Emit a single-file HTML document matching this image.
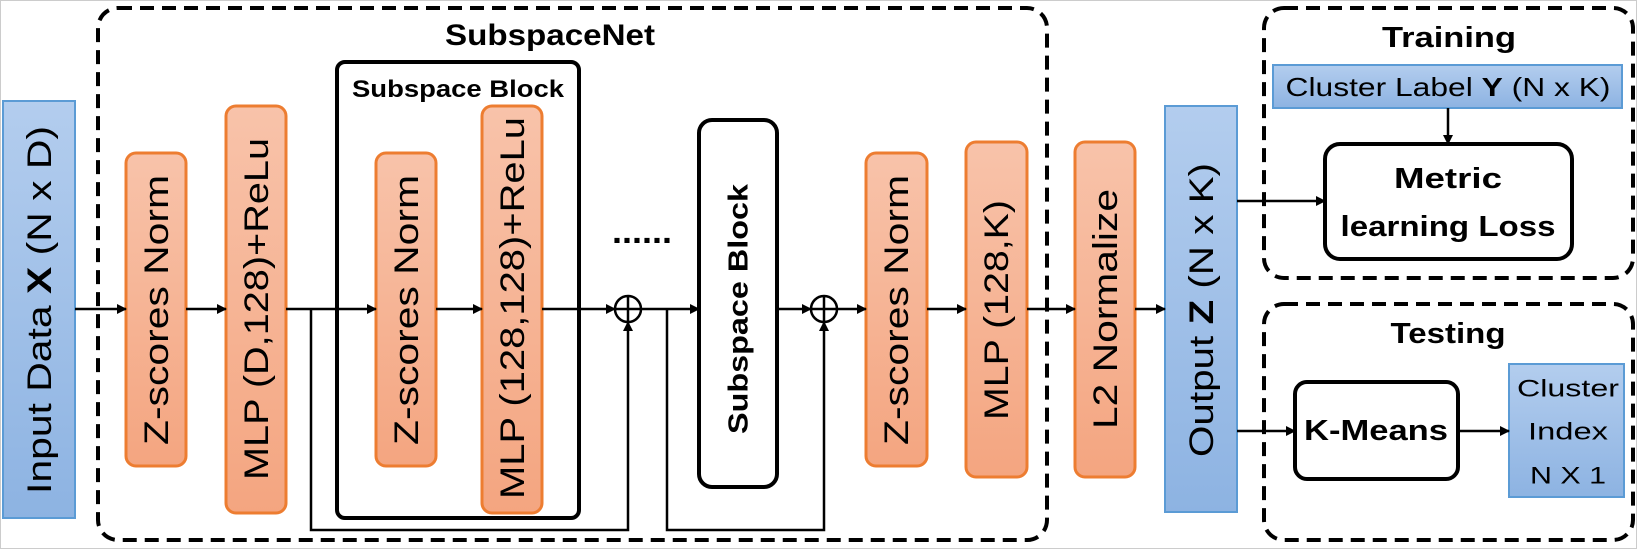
<!DOCTYPE html>
<html><head><meta charset="utf-8"><style>
html,body{margin:0;padding:0;background:#fff;}
svg{display:block;}
text{font-family:"Liberation Sans",sans-serif;}
</style></head><body>
<svg width="1637" height="549" viewBox="0 0 1637 549" xmlns="http://www.w3.org/2000/svg">
<defs>
<linearGradient id="og" x1="0" y1="0" x2="0" y2="1"><stop offset="0" stop-color="#f8c3aa"/><stop offset="1" stop-color="#f4a580"/></linearGradient>
<linearGradient id="bg" x1="0" y1="0" x2="0" y2="1"><stop offset="0" stop-color="#b3cdee"/><stop offset="1" stop-color="#8db3e2"/></linearGradient>
<marker id="ar" markerWidth="10" markerHeight="10" refX="9" refY="5" orient="auto" markerUnits="userSpaceOnUse" viewBox="0 0 10 10"><path d="M0,0 L10,5 L0,10z" fill="#000"/></marker>
</defs>
<rect x="0.5" y="0.5" width="1636" height="548" fill="#fff" stroke="#ccc"/>
<!-- dashed containers -->
<g fill="none" stroke="#000" stroke-width="4" stroke-dasharray="14 8">
<rect x="98" y="8" width="949" height="532" rx="20"/>
<rect x="1264" y="8" width="369" height="270" rx="20"/>
<rect x="1264" y="304" width="369" height="236" rx="20"/>
</g>
<text x="550" y="45" font-size="30" font-weight="bold" text-anchor="middle" textLength="210" lengthAdjust="spacingAndGlyphs">SubspaceNet</text>
<!-- subspace block solid -->
<rect x="337" y="62" width="242" height="456" rx="8" fill="none" stroke="#000" stroke-width="4"/>
<text x="458" y="97" font-size="24" font-weight="bold" text-anchor="middle" textLength="212" lengthAdjust="spacingAndGlyphs">Subspace Block</text>
<!-- blue boxes -->
<rect x="3" y="101" width="72" height="417" fill="url(#bg)" stroke="#5b9bd5" stroke-width="2"/>
<rect x="1165" y="106" width="72" height="406" fill="url(#bg)" stroke="#5b9bd5" stroke-width="2"/>
<rect x="1273" y="65" width="349" height="43" fill="url(#bg)" stroke="#5b9bd5" stroke-width="2"/>
<rect x="1509" y="364" width="115" height="133" fill="url(#bg)" stroke="#5b9bd5" stroke-width="2"/>
<!-- orange boxes -->
<g fill="url(#og)" stroke="#ed7d31" stroke-width="3">
<rect x="126" y="153" width="60" height="313" rx="10"/>
<rect x="226" y="106" width="60" height="407" rx="10"/>
<rect x="376" y="153" width="60" height="313" rx="10"/>
<rect x="482" y="106" width="60" height="407" rx="10"/>
<rect x="866" y="153" width="61" height="313" rx="10"/>
<rect x="966" y="142" width="61" height="335" rx="10"/>
<rect x="1075" y="142" width="60" height="335" rx="10"/>
</g>
<!-- subspace block 2, metric, kmeans -->
<rect x="699" y="120" width="78" height="367" rx="13" fill="#fff" stroke="#000" stroke-width="4"/>
<rect x="1325" y="144" width="247" height="115" rx="15" fill="#fff" stroke="#000" stroke-width="4"/>
<rect x="1295" y="382" width="163" height="97" rx="12" fill="#fff" stroke="#000" stroke-width="4"/>
<!-- rotated labels -->
<g font-size="34" dominant-baseline="central" text-anchor="middle" lengthAdjust="spacingAndGlyphs">
<text transform="translate(40,310) rotate(-90)" textLength="368" lengthAdjust="spacingAndGlyphs">Input Data <tspan font-weight="bold">X</tspan> (N x D)</text>
<text transform="translate(157,310) rotate(-90)" textLength="270" lengthAdjust="spacingAndGlyphs">Z-scores Norm</text>
<text transform="translate(257,309) rotate(-90)" textLength="342" lengthAdjust="spacingAndGlyphs">MLP (D,128)+ReLu</text>
<text transform="translate(407,310) rotate(-90)" textLength="270" lengthAdjust="spacingAndGlyphs">Z-scores Norm</text>
<text transform="translate(513,308) rotate(-90)" textLength="382" lengthAdjust="spacingAndGlyphs">MLP (128,128)+ReLu</text>
<text transform="translate(738,309) rotate(-90)" font-size="28" font-weight="bold" textLength="250" lengthAdjust="spacingAndGlyphs">Subspace Block</text>
<text transform="translate(897,310) rotate(-90)" textLength="270" lengthAdjust="spacingAndGlyphs">Z-scores Norm</text>
<text transform="translate(997,310) rotate(-90)" textLength="220" lengthAdjust="spacingAndGlyphs">MLP (128,K)</text>
<text transform="translate(1106,309) rotate(-90)" textLength="240" lengthAdjust="spacingAndGlyphs">L2 Normalize</text>
<text transform="translate(1202,310) rotate(-90)" textLength="294" lengthAdjust="spacingAndGlyphs">Output <tspan font-weight="bold">Z</tspan> (N x K)</text>
</g>
<text x="642" y="243" font-size="34" font-weight="bold" text-anchor="middle" textLength="60" lengthAdjust="spacingAndGlyphs">......</text>
<!-- right labels -->
<g text-anchor="middle" dominant-baseline="central">
<text x="1449" y="38" font-size="29" font-weight="bold" textLength="134" lengthAdjust="spacingAndGlyphs">Training</text>
<text x="1448" y="87" font-size="26" textLength="325" lengthAdjust="spacingAndGlyphs">Cluster Label <tspan font-weight="bold">Y</tspan> (N x K)</text>
<text x="1448" y="179" font-size="29" font-weight="bold" textLength="108" lengthAdjust="spacingAndGlyphs">Metric</text>
<text x="1448" y="227" font-size="29" font-weight="bold" textLength="215" lengthAdjust="spacingAndGlyphs">learning Loss</text>
<text x="1448" y="334" font-size="29" font-weight="bold" textLength="115" lengthAdjust="spacingAndGlyphs">Testing</text>
<text x="1376" y="431" font-size="29" font-weight="bold" textLength="144" lengthAdjust="spacingAndGlyphs">K-Means</text>
<text x="1568" y="389" font-size="24" textLength="102" lengthAdjust="spacingAndGlyphs">Cluster</text>
<text x="1568" y="432" font-size="24" textLength="80" lengthAdjust="spacingAndGlyphs">Index</text>
<text x="1568" y="476" font-size="24" textLength="76" lengthAdjust="spacingAndGlyphs">N X 1</text>
</g>
<!-- connectors -->
<g stroke="#000" stroke-width="2.5" fill="none">
<line x1="75" y1="309" x2="126" y2="309" marker-end="url(#ar)"/>
<line x1="186" y1="309" x2="226" y2="309" marker-end="url(#ar)"/>
<line x1="286" y1="309" x2="376" y2="309" marker-end="url(#ar)"/>
<line x1="436" y1="309" x2="482" y2="309" marker-end="url(#ar)"/>
<line x1="542" y1="309" x2="615" y2="309" marker-end="url(#ar)"/>
<line x1="641" y1="309" x2="699" y2="309" marker-end="url(#ar)"/>
<line x1="777" y1="309" x2="811" y2="309" marker-end="url(#ar)"/>
<line x1="837" y1="309" x2="866" y2="309" marker-end="url(#ar)"/>
<line x1="927" y1="309" x2="966" y2="309" marker-end="url(#ar)"/>
<line x1="1027" y1="309" x2="1075" y2="309" marker-end="url(#ar)"/>
<line x1="1135" y1="309" x2="1165" y2="309" marker-end="url(#ar)"/>
<polyline points="311,309 311,530 628,530 628,322" marker-end="url(#ar)"/>
<polyline points="667,309 667,530 824,530 824,322" marker-end="url(#ar)"/>
<line x1="1237" y1="201" x2="1325" y2="201" marker-end="url(#ar)"/>
<line x1="1448" y1="108" x2="1448" y2="144" marker-end="url(#ar)"/>
<line x1="1237" y1="431" x2="1295" y2="431" marker-end="url(#ar)"/>
<line x1="1458" y1="431" x2="1509" y2="431" marker-end="url(#ar)"/>
<circle cx="628" cy="309" r="13" fill="#fff"/>
<line x1="615" y1="309" x2="641" y2="309"/><line x1="628" y1="296" x2="628" y2="322"/>
<circle cx="824" cy="309" r="13" fill="#fff"/>
<line x1="811" y1="309" x2="837" y2="309"/><line x1="824" y1="296" x2="824" y2="322"/>
</g>
</svg>
</body></html>
